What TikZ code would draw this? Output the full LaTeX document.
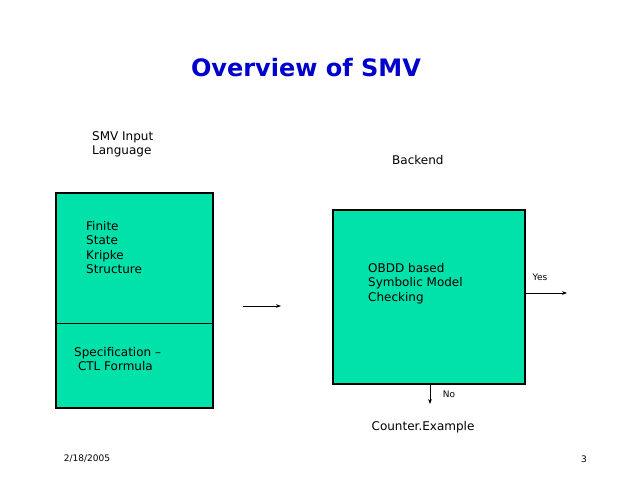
\documentclass[tikz,border=0pt]{standalone}
\usepackage{fontspec}
\setmainfont{DejaVu Sans}
\usetikzlibrary{arrows.meta}
\begin{document}
\begin{tikzpicture}[x=1pt,y=-1pt,
  txt/.style={align=left,anchor=north west,inner sep=0pt,font=\fontsize{12}{14.5}\selectfont},
  sm/.style={inner sep=0pt,font=\fontsize{9}{10}\selectfont},
  arr/.style={-{Stealth[length=5pt]},line width=0.8pt}]
\definecolor{boxc}{RGB}{0,226,170}
\useasboundingbox (0,0) rectangle (640,480);
\node[font=\bfseries\fontsize{24}{28}\selectfont,text=blue!80!black] (title) at (306,68) {Overview of SMV};
\node[txt] (inl) at (92,131) {SMV Input\\Language};
\node[txt] (be) at (392,155) {Backend};
\node[draw=black,line width=2pt,fill=boxc,minimum width=157pt,minimum height=215pt,anchor=north west,inner sep=0pt] (L) at (55,192) {};
\draw[line width=0.6pt] (L.west |- 0,323) coordinate (d1) -- (L.east |- 0,323) coordinate (d2);
\node[txt] (fs) at (86,221) {Finite\\State\\Kripke\\Structure};
\node[txt] (sp) at (74,347) {Specification --\\\ CTL Formula};
\node[draw=black,line width=2pt,fill=boxc,minimum width=192pt,minimum height=174pt,anchor=north west,inner sep=0pt] (R) at (332,209) {};
\node[txt] (ob) at (368,263) {OBDD based\\Symbolic Model\\Checking};
\coordinate (a1) at (243,306); \coordinate (a2) at (281,306);
\draw[arr] (a1) -- (a2);
\coordinate (y1) at (524,293); \coordinate (y2) at (567,293);
\draw[arr] (y1) -- (y2);
\node[sm] (yes) at (540,277) {Yes};
\coordinate (n1) at (430,383); \coordinate (n2) at (430,404);
\draw[arr] (n1) -- (n2);
\node[sm] (no) at (449,394) {No};
\node[font=\fontsize{12}{14}\selectfont] (ce) at (423,427) {Counter.Example};
\node[font=\fontsize{9}{10}\selectfont] (date) at (87,459) {2/18/2005};
\node[font=\fontsize{9}{10}\selectfont] (pg) at (584,459) {3};
\end{tikzpicture}
\end{document}
